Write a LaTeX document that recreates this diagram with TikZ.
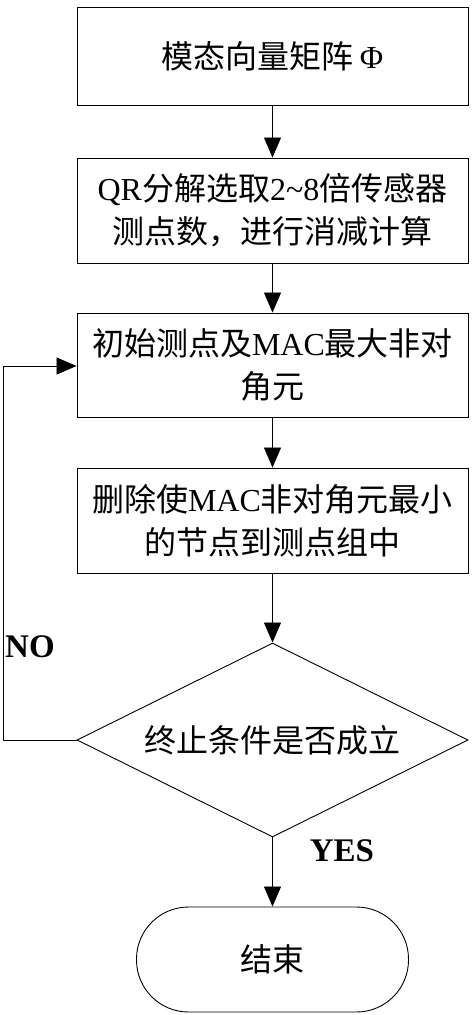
\documentclass[tikz,border=0pt]{standalone}
\usepackage{fontspec}
\setmainfont{Liberation Serif}
\newfontfamily\cjk{Noto Sans CJK SC}
\newcommand\zhs[1]{{\cjk #1}}
\usetikzlibrary{arrows.meta,shapes.geometric}
\begin{document}
\begin{tikzpicture}[x=1pt,y=-1pt,
  every node/.style={font=\fontsize{32pt}{43pt}\selectfont},
  procbox/.style={draw,line width=0.9pt,minimum width=391pt,inner sep=0pt,align=center},
  decbox/.style={draw,diamond,line width=0.9pt,minimum width=391pt,minimum height=194pt,inner sep=0pt,aspect=2},
  termbox/.style={draw,line width=0.9pt,rounded corners=52pt,minimum width=272pt,minimum height=105pt,inner sep=0pt},
  conn/.style={line width=0.8pt,-{Triangle[length=20pt,width=17pt]}},
  lbl/.style={font=\fontsize{33pt}{36pt}\selectfont\bfseries}]
\useasboundingbox (0,0) rectangle (474,1015);
\node[procbox,minimum height=98pt] (b1) at (272.5,56) {\zhs{模态向量矩阵}\hspace{6pt}Φ};
\node[procbox,minimum height=105pt] (b2) at (272.5,210.5) {QR\zhs{分解选取}2\textasciitilde8\zhs{倍传感器}\\\zhs{测点数，进行消减计算}};
\node[procbox,minimum height=104pt] (b3) at (272.5,365) {\zhs{初始测点及}MAC\zhs{最大非对}\\\zhs{角元}};
\node[procbox,minimum height=105pt] (b4) at (272.5,520.5) {\zhs{删除使}MAC\zhs{非对角元最小}\\\zhs{的节点到测点组中}};
\node[decbox] (d) at (272.5,740) {\zhs{终止条件是否成立}};
\node[termbox] (e) at (272.5,959.5) {\zhs{结束}};
\coordinate (c1) at (3,740);
\coordinate (c2) at (3,366);
\draw[conn] (b1.south) -- (b2.north);
\draw[conn] (b2.south) -- (b3.north);
\draw[conn] (b3.south) -- (b4.north);
\draw[conn] (b4.south) -- (d.north);
\draw[conn] (d.south) -- (e.north);
\draw[conn] (d.west) -- (c1) -- (c2) -- (c2 -| b3.west);
\node[lbl] (no) at (30,647) {NO};
\node[lbl] (yes) at (342,851) {YES};
\end{tikzpicture}
\end{document}
